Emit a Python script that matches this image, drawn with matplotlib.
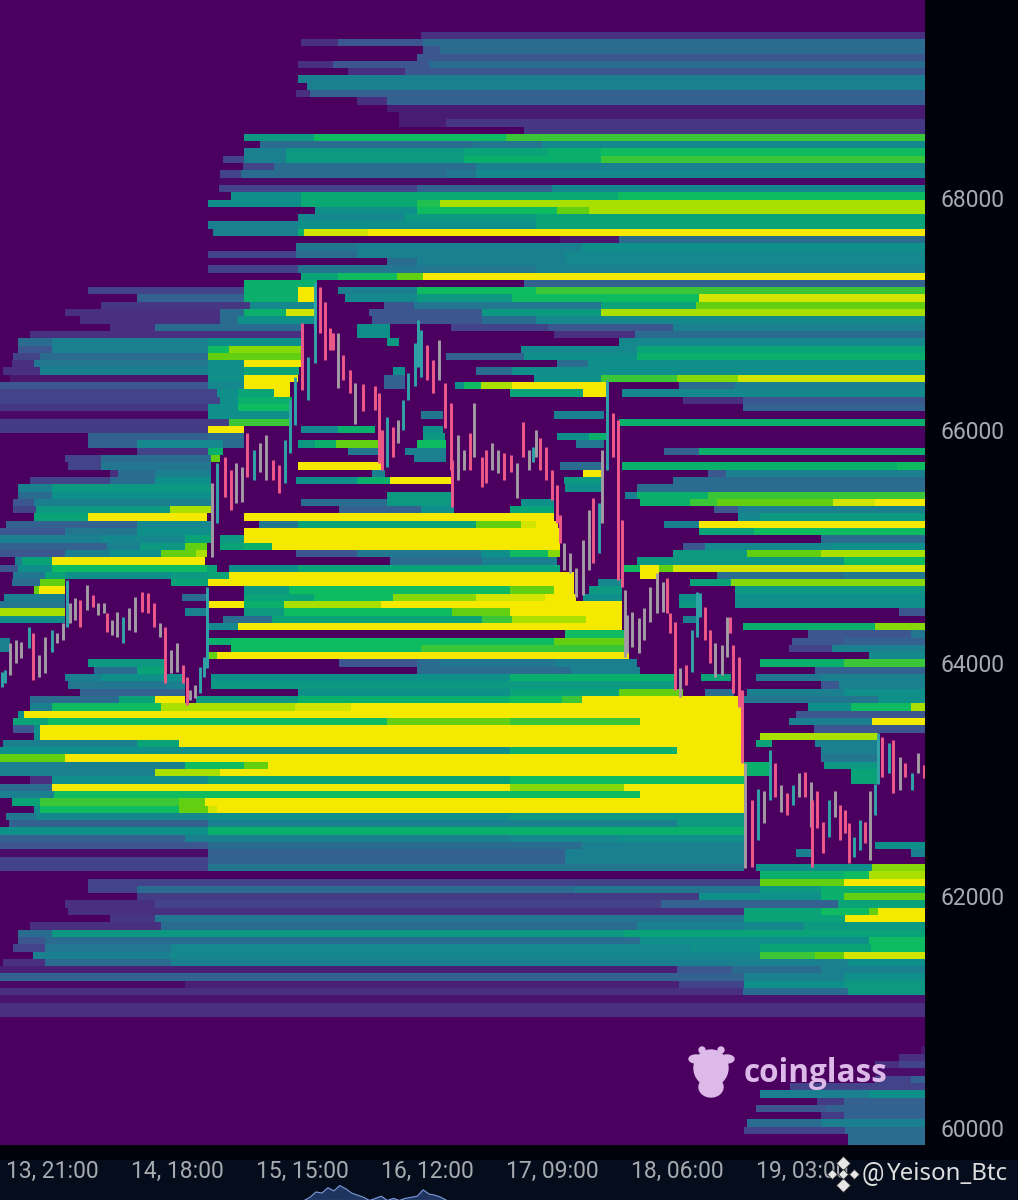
import numpy as np
import matplotlib
matplotlib.use('Agg')
import matplotlib.pyplot as plt
from matplotlib.colors import LinearSegmentedColormap
from matplotlib.patches import Ellipse, Rectangle

plt.rcParams['font.family'] = ['Roboto', 'DejaVu Sans']

# price axis ticks and time axis ticks (hours from left edge of the chart)
price_ticks = [60000, 62000, 64000, 66000, 68000]
time_ticks = [8.75, 29.75, 50.75, 71.75, 92.75, 113.75, 134.75]
time_labels = ['13, 21:00', '14, 18:00', '15, 15:00', '16, 12:00', '17, 09:00', '18, 06:00', '19, 03:00']

band_top = 69431
band_step = 62.8
hour_end = 155.4

# liquidation bands, row -> (start hour, level) steps, level holds until next step
bands = {
0: [(70.6,1)],
1: [(50.4,1),(56.6,2),(71,3)],
2: [(71,2),(74,3)],
3: [(70,2)],
4: [(50,1),(56,2),(72,3)],
5: [(58.5,1),(68,2)],
6: [(50,4)],
7: [(51.5,4)],
8: [(49.6,1),(52,2.5)],
9: [(60,1),(65,2.5)],
10: [(65,.6)],
11: [(67,.6)],
12: [(67,.6),(75,1.2)],
13: [(88,1.2)],
14: [(41,5.5),(52.7,7),(85,7.5)],
15: [(43.7,3),(79.5,3.5),(91,4.5)],
16: [(41,4),(48,5.5),(78,6),(92,6.5),(101,7)],
17: [(37.5,1.5),(41,4),(48,5.5),(78,6.5),(101,7.5)],
18: [(40.6,1.5),(46,3),(80,4)],
19: [(37,1.5),(40.3,3),(75,3.5),(80,4.5)],
20: [(36.7,.2)],
21: [(36.7,1.5),(70,2.5),(92.7,4.5)],
22: [(38.6,5),(50.4,6.2),(103.6,7)],
23: [(35,5),(50.4,6.2),(70,7.2),(74,9)],
24: [(53,5),(70,7),(93.5,8),(99,9)],
25: [(50,4.5),(68,5.5),(90,6)],
26: [(35,4),(50,5),(90,6)],
27: [(35.6,4),(50,6.5),(51,9.5),(61.6,10)],
28: [(94,.5),(104,3)],
29: [(49.6,3.5),(60,4),(97.7,5)],
30: [(35,1.5),(49.6,3),(60,4),(95,4.5)],
31: [(65,3),(70,4),(95,4.5)],
32: [(35,1.5),(50,3.5),(90,4)],
33: [(50.4,6),(56.6,7),(66.7,8),(71,10)],
34: [(41,6.5),(53.2,0),(88,2.5)],
35: [(14.6,1.5),(41,6.5),(50,10),(53,0),(56.6,4),(70,7),(90,7.5)],
36: [(23,2.5),(41,6.5),(50,10),(53.2,0),(58,4.5),(70,5.5),(86,7),(117.4,9.5)],
37: [(17,1.2),(42,4.5),(53.2,0),(64.4,2),(69.5,3.5),(101,6),(117,8)],
38: [(11,1),(37,3),(41,6.5),(48,9.5),(53,0),(62,2),(81,5.5),(100.8,9)],
39: [(13.4,1),(37,3),(40,5),(53,0),(62.5,2),(81,3),(90,4.5)],
40: [(18.5,1),(26,3),(50.4,0),(60,5),(65.5,0),(75.6,1.5),(92,2),(113,4)],
41: [(4.8,1),(50.4,0),(60,5),(65.5,0),(93,1),(106.7,3)],
42: [(3,3),(8.7,4),(35,5),(50.4,0),(65,5.5),(67,0),(104,4.5)],
43: [(3,2),(8.7,4),(35,7),(38.4,8.5),(50.4,0),(87.4,4.5),(107,6)],
44: [(2.2,1.5),(6.7,3),(35,8),(50.4,0),(75,2.5),(88,5),(107,6.5)],
45: [(2,1),(5.6,3.5),(35,5),(41,10),(50.4,0),(93.5,3),(98.6,5)],
46: [(.5,1),(6.7,4),(35,5),(41,6),(50.1,0),(66,5),(68,0),(80,3),(86,5)],
47: [(1.7,.5),(35,5),(41,10),(49.9,0),(64.4,2.5),(68,0),(89.6,5),(101,7.5),(113.7,8.5),(123.8,9.5)],
48: [(0,2),(35,4.5),(41,10),(48.7,0),(64.4,2.5),(68,0),(76.5,5),(78,7),(80.7,9),(86,10),(101.6,0),(114,3),(123.5,4)],
49: [(0,1.5),(36.4,5),(40,6),(46,10),(48.7,0),(85.7,6),(98,10),(101.8,0),(104.5,4.5)],
50: [(0,1.5),(37,5),(40,6.5),(49,0),(114.6,1),(124.6,2)],
51: [(0,1.2),(35,5),(40,7),(49,0),(124.6,2.5)],
52: [(0,.2),(35,5),(49,0),(70.6,3.5),(74.5,0),(93,4),(101.5,0)],
53: [(0,1.3),(38.4,7.5),(49,0),(104,6.5)],
54: [(0,1.3),(35,10),(41,0),(50.4,4.5),(56.6,6.5),(63,0),(71,5),(74.5,0)],
55: [(14.6,2.5),(35,3),(41,0),(71,5.5),(74.7,0),(93.5,5),(99,6.5),(101.6,0)],
56: [(14.6,2.5),(23,4.5),(37.3,3),(41,0),(50,5.5),(53,6.5),(56.3,8),(63.6,0),(70,7),(75,0),(96.6,3.5),(101.4,0)],
57: [(23,1.5),(35,6.5),(37.5,0),(58.5,3.5),(63.6,0),(68,4),(75,0),(111.5,2.5),(117.4,6.5)],
58: [(11,1.5),(17,3),(35.3,8),(37,0),(69.5,4),(75,0)],
59: [(11.5,1.5),(17,3.5),(35.3,0),(50,10),(63.9,0),(94,3),(100.8,0),(104.5,6.5),(150.7,7)],
60: [(18.5,1),(19.6,3),(26,4),(35.3,0),(62.5,4),(64.7,0),(98,10),(101.1,0),(118.8,2),(122,4)],
61: [(5,1.5),(18.5,3),(26,5),(35.3,0),(49.6,5),(60,6.5),(65.3,10),(75.6,0),(94.7,5.5),(101.4,0),(113,3)],
62: [(2.8,4),(8.7,5.5),(35.3,0),(95,5),(101.4,0),(107,3)],
63: [(2.8,3),(8.7,5),(35.3,0),(65,5.5),(75.6,0),(105,4),(107,6.5),(118.8,7.5)],
64: [(2.2,2),(5.6,4),(35.3,0),(50.4,3),(65,5.5),(76.2,0),(87.4,5),(93,0),(107.5,6.5),(116,7.5),(120.4,8),(140,9.5),(146.8,10)],
65: [(2.2,1.5),(6,5.5),(28.3,9),(35.3,0),(57,2.5),(70.6,5),(76.2,0),(85.7,6),(93,0),(120,2),(124,4)],
66: [(5.6,6),(14.6,10),(34.7,0),(41,10),(93,0),(124,4.5),(127.7,5.5)],
67: [(1,2.5),(23,4.5),(35.3,0),(43.4,3.5),(50,6),(80,8),(87.4,9.5),(90,10),(93.6,0),(111.5,4),(117.4,10)],
68: [(0,2),(11,3.5),(23,5),(35.3,0),(41,10),(94,0),(117.4,6),(126.6,7)],
69: [(0,4),(17,4.5),(31,6),(35.3,0),(37,5.5),(41,10),(94,0),(138,3)],
70: [(0,2.5),(18,4),(23.5,5.5),(31,8),(34.7,0),(37,6),(41,6.5),(45.7,10),(94,0),(114.6,2),(118.4,4.5),(140,5)],
71: [(0,2),(11,4),(18.5,5),(27,8),(33,9),(34.7,0),(49.6,2),(60,3.5),(80.7,5),(85.7,7),(92,8.5),(94,0),(113,5.5),(125.5,8),(137.8,9)],
72: [(2.5,4),(3.6,6),(8.7,10),(34.5,0),(65.5,3),(81,4),(93.5,0),(107,5.5),(141.7,7)],
73: [(0,2),(2.8,5),(8.7,7),(34.7,6),(36.4,0),(38.4,5),(50,6),(94,0),(104.5,7),(107.5,10),(110.6,8),(113,9.5)],
74: [(2.2,3.5),(7.3,6),(11,5),(28.6,5.5),(35,6),(38.4,10),(96.3,0),(107.5,10),(110.6,0),(120.4,3),(141.7,3.5)],
75: [(2,3),(6.7,8),(11,0),(28.6,6),(35,10),(96.3,0),(100.5,4.5),(104.5,0),(116,6),(122.7,8.5)],
76: [(5.6,8),(6.4,10),(11,0),(41,5.5),(48.5,7),(85.7,8),(93,10),(96.5,0),(99,5.5),(104.5,0),(123.5,5.5)],
77: [(.6,4),(11,0),(30.5,3),(34.7,0),(41,6),(52.7,7),(66,8.5),(80,9.5),(91.3,10),(96.6,0),(98,5),(104.5,0),(114,5),(117.6,0),(123.5,5)],
78: [(0,3.5),(11,0),(35,10),(41,6.5),(47.6,9),(64,10),(104.5,0),(114,5.5),(117.6,0),(123.5,5)],
79: [(0,9),(11,0),(31,4),(34.7,0),(41,5.5),(47.6,7),(76,8),(85.7,10),(104.5,0),(151,2)],
80: [(0,5),(11,0),(37.5,3),(45.7,6),(81,7.5),(86,9),(98.3,10),(104.5,0),(114.6,4),(117,0)],
81: [(35,4.5),(40,10),(104.5,0),(124.6,6.5),(147,8.5)],
82: [(95,7),(105,0),(135.6,2),(153,3.5)],
83: [(0,4),(1.7,0),(35,6.5),(38.6,7),(93,8),(105,0),(133,2),(141.7,2.5)],
84: [(0,4),(1.7,0),(38.6,7),(70.6,7.5),(105,0),(132.5,1.5),(139.7,4)],
85: [(35,8),(36.4,10),(105.6,0),(146,4.5)],
86: [(14.6,5.5),(27.7,0),(57,2),(70,3),(74,3.5),(93,4),(107,0),(127.7,6.5),(141.7,7.5)],
87: [(15.7,3),(23,6),(28,0),(70,3),(96,4),(107.5,0),(137,2.5)],
88: [(11,4),(17,5),(30.5,0),(35.3,5),(85.7,6.5),(113.4,0),(117.6,6),(122.6,0),(127,3.5),(137.8,4)],
89: [(11.5,3.5),(28,4),(30.8,0),(35.5,5.5),(113.4,0),(138,2),(141,4)],
90: [(13.4,2.5),(30.8,0),(50,5),(85.7,6),(104,8),(114.6,0),(118.5,3),(123.2,0),(125.5,4),(141.7,5)],
91: [(5,3),(20,6),(25.8,10),(30.8,0),(33,5.5),(50,6.5),(85.7,7),(94.4,7.5),(97.7,10),(124,0),(125,3.5),(147.3,5)],
92: [(5,4),(8.7,7),(27,9),(49.3,9.5),(59,10),(124.6,0),(135.6,5),(143,7),(153,9)],
93: [(2.8,5),(3.9,10),(124.6,0),(133.6,2)],
94: [(2.2,6),(7.8,7),(65,8),(85.7,7.5),(107.5,10),(124.6,0),(132.5,4),(146.5,10)],
95: [(2.2,2),(5.6,5),(6.7,10),(124.6,0),(136.7,2)],
96: [(5.6,5),(6.7,10),(124.6,0),(127.7,9),(147.3,0)],
97: [(.5,4),(23,6),(30,10),(125,0),(126.8,6),(129.7,0),(137,4),(147.6,0)],
98: [(0,5),(85.7,6.5),(113.7,10),(125,0),(138,4),(147.6,0)],
99: [(0,8),(11,10),(125,0),(138,3.5),(147.6,0)],
100: [(0,4),(31,7),(41,8),(45,10),(125,6.5),(129.4,0),(138.4,5.5),(147.6,0)],
101: [(0,4),(26,9),(37,10),(125,6.5),(129.4,0),(143,6),(147.6,0)],
102: [(4.8,1),(8.7,5),(35,6),(85.7,7),(125,0),(143,6),(147.6,0)],
103: [(0,3),(8.7,10),(85.7,8.5),(104.7,10),(125,0)],
104: [(0,4),(9,7),(107.5,10),(125,0)],
105: [(2,6),(6.7,7.5),(30,8),(34.5,10),(125,0)],
106: [(5.6,5),(6.7,7),(30,8),(35,9.5),(36.4,10),(125,0)],
107: [(1,3.5),(6,4.5),(35,5),(85.7,5.5),(125,0)],
108: [(1.4,2.5),(35,4),(113.7,5.5),(125,0)],
109: [(0,5),(35,6.5),(125,0)],
110: [(0,2.5),(31,4),(85.7,4.5),(104,5),(125,0)],
111: [(0,2),(35,3),(97.7,4),(125,0),(147,5)],
112: [(0,.3),(35,2.5),(95,4),(125,0),(133.6,4),(136.4,0),(153,4)],
113: [(0,1.5),(35,2.5),(95,4),(125,0)],
114: [(0,1.5),(35,3.5),(125,0),(127,5),(146.5,8.5)],
115: [(127.7,6.5),(141.7,7),(146,9)],
116: [(14.6,1.5),(127.7,8),(141.7,10)],
117: [(14.6,1.5),(23,3),(96.3,3.5),(127.7,5.5),(137.8,6.5)],
118: [(23,1.3),(117.4,5),(137.8,6.5),(141.7,8)],
119: [(11,1),(26,1.5),(111,2.5),(140.6,6)],
120: [(11.5,1),(125,6),(137.8,7),(146,8),(147.3,10)],
121: [(18.5,1.2),(26,3.5),(125,6),(142,10)],
122: [(4.8,1),(27,3),(107,4),(125,4.5),(135,5.5)],
123: [(2.8,3),(8.7,5.5),(104.7,6)],
124: [(2.8,2),(7.3,3),(107.5,5),(146,7)],
125: [(2.2,1.5),(7.3,3.5),(28.6,4.5),(116,5),(127.7,6),(146.2,7)],
126: [(5.3,4),(28.6,4.5),(127.7,7.5),(137,8),(141.7,9.5)],
127: [(.5,1),(7.3,3),(28.6,4),(125,4),(142.5,5)],
128: [(0,.7),(113.7,2),(123,3),(137.8,4)],
129: [(0,2.5),(125,4),(141.7,5)],
130: [(0,.2),(31,.7),(114,1.5),(125,5),(142,5.5)],
131: [(0,1),(124.6,3),(142.5,5.5)],
132: [(0,.4)],
133: [(0,1)],
134: [(0,1)],
139: [(154.7,.5)],
140: [(151,1)],
141: [(147,1),(151,1.5)],
142: [(147,.3)],
143: [(147,1.5),(153,2.5)],
144: [(132.6,1.5)],
145: [(127.7,4),(146,5)],
146: [(137.2,1.3),(141.7,2.5)],
147: [(127,2),(138.6,2.5)],
148: [(137.8,1.3),(141.7,2.5)],
149: [(125.5,3),(137.8,4)],
150: [(125,1.5),(142,3)],
151: [(142.5,3)],
152: [(142.5,3)],
}

# price candles: hour, high, low, kind (g grey, p pink, t teal)
candle_hour = [.3,.8,1.7,2.7,3.6,4.8,5.6,6.6,7.6,8.7,9.6,10.6,11.2,11.8,12.6,13.4,14.6,15.6,16.5,17.5,17.9,18.8,19.6,20.6,21.6,22.7,23.8,24.9,25.8,26.8,27.7,28.7,29.7,30.7,31.4,31.9,32.8,33.6,34.2,34.7,
35.6,36.5,37.8,38.8,39.7,40.6,41.5,42.6,43.7,44.7,45.8,46.8,47.9,48.7,49.6,50.7,51.8,52.9,53.8,54.6,55.5,56,56.7,57.7,58.8,59.7,61,63,63.6,64.1,
65,66,66.8,67.7,68.6,69.7,70.3,70.7,71.7,72.7,73.7,74.8,75.7,76,76.9,77.9,78.9,79.7,81,81.7,82.6,83.6,84.6,85.9,86.8,87.8,88.8,89.6,90.1,90.7,
91.7,92.7,93.5,94.1,94.7,95.7,96.8,97.9,98.9,99.7,100.7,101.1,102,103,103.9,104.5,105,105.4,106.1,107.3,108.2,109.2,110.4,111.4,112.1,112.6,113.4,114.3,115.3,116.2,
117.1,117.6,118.5,119.2,120.2,121.3,122.1,122.6,123.2,124.1,124.6,125.2,126.3,127.3,128.3,129.3,130.2,131.2,132.2,133.3,134.2,135.3,136.3,136.4,137.2,138.2,139.2,140.2,141.2,142,
142.6,143.4,144.4,145.4,146.2,147,147.5,148.2,149.3,150.1,151.2,152.1,153.2,154.3,155.2]
candle_high = [63925,63940,64169,64198,64183,64312,64255,64069,64226,64284,64255,64341,64714,64513,64556,64542,64671,64585,64513,64513,64427,64370,64441,64398,64470,64570,64613,64599,64513,64341,64312,64112,64169,63983,63882,63768,63811,63968,64054,64657,
65545,65717,65775,65660,65717,65689,65975,65832,65889,65961,65746,65703,65918,66262,66460,66922,66635,67280,67237,67108,66879,66836,66836,66650,66521,66406,66400,66380,66320,66004,
66119,66033,66090,66262,66492,66750,66951,66865,66736,66607,66779,66406,66233,65746,65961,65832,65975,66233,65775,65832,65889,65832,65803,65789,65717,66076,65832,65861,66004,65932,
65861,65660,65531,65273,65029,64943,64814,65058,65316,65416,65373,65832,66434,66147,66090,65230,64628,64413,64441,64384,64470,64657,64771,64700,64728,64427,64355,63954,63983,64284,
64613,64599,64484,64284,64169,64155,64398,64398,64155,64054,63768,63137,62821,62920,62900,63252,63137,62950,62880,62950,63051,63065,62980,62821,62900,62635,62821,62900,62778,62735,
62620,62505,62649,62635,62900,62960,63395,63366,63309,63337,63194,63137,63051,63223,63123]
candle_low = [63796,63825,63897,63997,64040,64126,63854,63882,63911,64097,64169,64198,64312,64341,64370,64312,64456,64484,64413,64427,64270,64241,64226,64169,64284,64270,64441,64427,64312,64226,63825,63911,63925,63825,63639,63682,63696,63739,63882,63954,
64914,65201,65430,65316,65373,65388,65603,65574,65646,65574,65574,65459,65545,65803,66050,66349,66263,66578,66836,66607,66693,66693,66363,66435,66320,66060,66170,66180,65717,65660,
65689,65775,65889,66004,66262,66380,66550,66463,66435,66320,66435,66018,65660,65345,65574,65660,65660,65775,65517,65545,65660,65631,65574,65646,65416,65775,65660,65732,65775,65660,
65574,65402,65201,65029,64800,64771,64570,64585,64800,64857,64943,65201,65660,65775,64714,64657,64054,64083,64140,64083,64198,64355,64427,64441,64427,64255,63768,63710,63811,63925,
64226,64398,64198,63997,63882,63897,64054,64255,63739,63624,63137,62233,62248,62477,62620,62820,62850,62720,62692,62778,62850,62850,62592,62248,62577,62362,62505,62677,62477,62534,
62276,62334,62391,62448,62305,62692,62960,63022,63051,62879,62908,63022,62908,63051,63008]
candle_kind = list('ttgggtpggtggtggpgpggpggtggpppgpggppggttt'
  'gtppggptggpptttpttppppgppgpppp'
  'tpgtttttppgpppggpgppggppgpgtgpp'
  'pppgggggptgtpppggggggggpppgpt'
  'ttppgggpppp' 'gptgtpgptgpgppptgpp'
  'pttpgttptpgptgp')

# small volume shape under the time axis
volume_hour = [51,52,53,54,55,56,57,58,59,60,61,62,63,64,65,66,67,68,69,70,71,72,73,74,75]
volume_level = [0,3,8,7,12,9,14,11,7,5,3,0,2,4,0,2,0,2,3,4,10,6,5,3,0]

level_colors = ['#4b0060','#483080','#3c5690','#2a6c90','#1a8090','#0f8f8a','#0aa377','#0cbb62','#62d010','#a8e000','#f5e900']
heat_map = LinearSegmentedColormap.from_list('heat', level_colors)

fig = plt.figure(figsize=(10.18, 12), dpi=100, facecolor='#01010c')

# bottom strip behind the time labels
strip = fig.add_axes([0, 0, 1, 40/1200], facecolor='#050c1c')
strip.axis('off')
strip.add_patch(Rectangle((0, 0), 1, 1, color='#050c1c', transform=strip.transAxes))

ax = fig.add_axes([0, 55/1200, 925/1018, 1145/1200])

# bands to a grid, quarter hour columns
col_edges = np.arange(0, hour_end + 0.25, 0.25)
row_count = max(bands) + 1
row_edges = band_top - band_step*np.arange(row_count + 1)
grid = np.zeros((row_count, len(col_edges) - 1))
for row, steps in bands.items():
  for i, (start, level) in enumerate(steps):
    stop = steps[i+1][0] if i + 1 < len(steps) else hour_end + 1
    grid[row, (col_edges[:-1] >= start) & (col_edges[:-1] < stop)] = level

ax.set_facecolor(level_colors[0])
ax.pcolormesh(col_edges, row_edges, grid, cmap=heat_map, vmin=0, vmax=10, shading='flat', antialiased=False, rasterized=True)

kind_color = {'g': '#a39ca4', 'p': '#ee5a88', 't': '#2fa5a8'}
ax.vlines(candle_hour, candle_low, candle_high, colors=[kind_color[k] for k in candle_kind], linewidth=2.1, zorder=3)

ax.set_xlim(0, hour_end)
ax.set_ylim(59854, 69703)
ax.yaxis.tick_right()
ax.set_yticks(price_ticks)
ax.set_xticks(time_ticks)
ax.set_xticklabels(time_labels)
ax.tick_params(axis='y', length=0, pad=11, labelsize=16.5, labelcolor='#a7abaf')
ax.tick_params(axis='x', length=0, pad=11, labelsize=16.5, labelcolor='#a7abaf')
for s in ax.spines.values():
  s.set_visible(False)

# volume strip at the very bottom
vol = fig.add_axes([0, 0, 925/1018, 16/1200], sharex=ax)
vol.axis('off')
vol.fill_between(volume_hour, volume_level, color='#1f3560', linewidth=0.8, edgecolor='#7f9ad8')
vol.set_ylim(0, 15)

# overlay in pixels for the logos
top = fig.add_axes([0, 0, 1, 1], facecolor='none')
top.set_xlim(0, 1018)
top.set_ylim(1200, 0)
top.axis('off')
pink = '#ddb9e9'
top.add_patch(Ellipse((711, 1068), 34, 36, color=pink))
top.add_patch(Ellipse((711, 1087), 24, 20, color=pink))
top.add_patch(Ellipse((696, 1059), 14, 8, color=pink))
top.add_patch(Ellipse((727, 1059), 14, 8, color=pink))
top.add_patch(Ellipse((702, 1050), 6, 6, color=pink))
top.add_patch(Ellipse((721, 1050), 6, 6, color=pink))
top.text(744, 1073, 'coinglass', color=pink, fontsize=22.7, fontweight='bold', va='center', ha='left', family=['Open Sans', 'DejaVu Sans'])
for dx, dy, s in [(0,-11,7),(0,11,7),(-11,0,5),(11,0,5),(0,0,5)]:
  top.plot(843+dx, 1174+dy, marker='D', ms=s, mfc='#e6e6e6', mec='#333333', mew=0.6)
top.text(862, 1174, '@', color='#dedede', fontsize=18, va='center', ha='left')
top.text(887, 1174, 'Yeison_Btc', color='#dedede', fontsize=17.3, va='center', ha='left', family=['Noto Sans', 'DejaVu Sans'])

fig.savefig('out.png', dpi=100, facecolor=fig.get_facecolor())
